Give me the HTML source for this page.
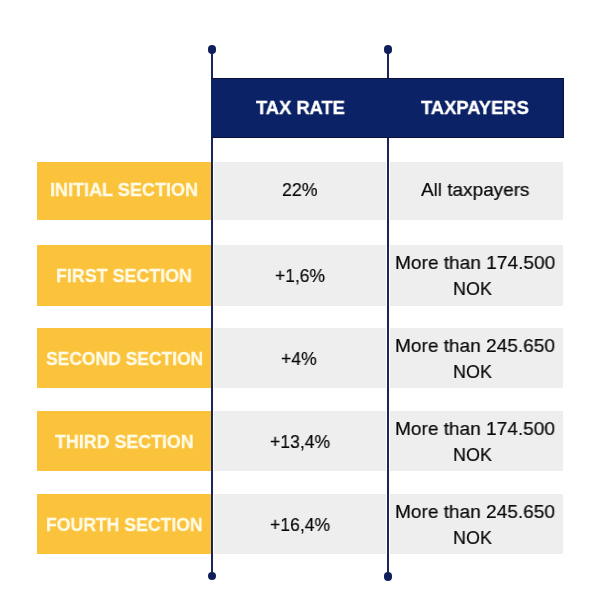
<!DOCTYPE html>
<html>
<head>
<meta charset="utf-8">
<style>
html,body{margin:0;padding:0;}
body{width:600px;height:600px;background:#ffffff;position:relative;overflow:hidden;font-family:"Liberation Sans",sans-serif;}
.abs{position:absolute;}
.hdr{left:211px;top:77.8px;width:352.8px;height:59.9px;background:#0c2266;border:1.6px solid #0a1136;border-left:0;box-sizing:border-box;z-index:2;}
.y{left:37px;width:174px;background:#fbc23c;}
.g1{left:213.5px;width:172px;background:#eeeeee;}
.g2{left:390px;width:172.6px;background:#eeeeee;}
.vl{width:2.4px;background:#1b2559;top:49px;height:527px;}
.dot{width:8.4px;height:8.4px;border-radius:50%;background:#0f1f5c;}
.t{position:absolute;white-space:nowrap;line-height:1;transform-origin:0 0;z-index:3;will-change:transform;}
.yt{color:#fffae4;font-weight:bold;-webkit-text-stroke:0.3px #fffae4;}
.ht{color:#ffffff;font-weight:bold;-webkit-text-stroke:0.3px #ffffff;}
.gt{color:#080808;-webkit-text-stroke:0.2px #080808;}
</style>
</head>
<body>
<div class="abs hdr"></div>
<div class="abs y" style="top:161.5px;height:58px"></div>
<div class="abs g1" style="top:161.5px;height:58px"></div>
<div class="abs g2" style="top:161.5px;height:58px"></div>
<div class="abs y" style="top:244.8px;height:60.8px"></div>
<div class="abs g1" style="top:244.8px;height:60.8px"></div>
<div class="abs g2" style="top:244.8px;height:60.8px"></div>
<div class="abs y" style="top:328px;height:60px"></div>
<div class="abs g1" style="top:328px;height:60px"></div>
<div class="abs g2" style="top:328px;height:60px"></div>
<div class="abs y" style="top:410.7px;height:60.6px"></div>
<div class="abs g1" style="top:410.7px;height:60.6px"></div>
<div class="abs g2" style="top:410.7px;height:60.6px"></div>
<div class="abs y" style="top:494px;height:60px"></div>
<div class="abs g1" style="top:494px;height:60px"></div>
<div class="abs g2" style="top:494px;height:60px"></div>
<div class="abs vl" style="left:210.7px"></div>
<div class="abs vl" style="left:386.9px"></div>
<div class="abs dot" style="left:207.6px;top:45.3px"></div>
<div class="abs dot" style="left:383.8px;top:45.3px"></div>
<div class="abs dot" style="left:207.6px;top:572.1px"></div>
<div class="abs dot" style="left:383.8px;top:572.3px"></div>
<div class="t ht" id="h1" style="left:255.87px;top:98.08px;font-size:19.25px;transform:scaleX(0.9521)">TAX RATE</div>
<div class="t ht" id="h2" style="left:420.79px;top:98.08px;font-size:19.25px;transform:scaleX(0.9539)">TAXPAYERS</div>
<div class="t yt" id="y1" style="left:50.32px;top:180.45px;font-size:19.25px;transform:scaleX(0.9375)">INITIAL SECTION</div>
<div class="t yt" id="y2" style="left:55.92px;top:265.89px;font-size:19.25px;transform:scaleX(0.9274)">FIRST SECTION</div>
<div class="t yt" id="y3" style="left:46.08px;top:349.39px;font-size:19.25px;transform:scaleX(0.9073)">SECOND SECTION</div>
<div class="t yt" id="y4" style="left:54.87px;top:432.14px;font-size:19.25px;transform:scaleX(0.9264)">THIRD SECTION</div>
<div class="t yt" id="y5" style="left:46.06px;top:515.20px;font-size:19.25px;transform:scaleX(0.9151)">FOURTH SECTION</div>
<div class="t gt" id="m1" style="left:281.84px;top:180.03px;font-size:19.25px;transform:scaleX(0.9211)">22%</div>
<div class="t gt" id="m2" style="left:274.91px;top:265.57px;font-size:19.25px;transform:scaleX(0.9065)">+1,6%</div>
<div class="t gt" id="m3" style="left:281.45px;top:349.43px;font-size:19.25px;transform:scaleX(0.9113)">+4%</div>
<div class="t gt" id="m4" style="left:269.55px;top:431.94px;font-size:19.25px;transform:scaleX(0.9123)">+13,4%</div>
<div class="t gt" id="m5" style="left:269.55px;top:515.19px;font-size:19.25px;transform:scaleX(0.9123)">+16,4%</div>
<div class="t gt" id="r1" style="left:420.95px;top:180.29px;font-size:19.25px;transform:scaleX(0.9840)">All taxpayers</div>
<div class="t gt" id="r2a" style="left:395.23px;top:253.26px;font-size:19.25px;transform:scaleX(0.9909)">More than 174.500</div>
<div class="t gt" id="r2b" style="left:453.41px;top:278.60px;font-size:19.25px;transform:scaleX(0.9303)">NOK</div>
<div class="t gt" id="r3a" style="left:395.05px;top:335.77px;font-size:19.25px;transform:scaleX(0.9892)">More than 245.650</div>
<div class="t gt" id="r3b" style="left:453.41px;top:361.60px;font-size:19.25px;transform:scaleX(0.9303)">NOK</div>
<div class="t gt" id="r4a" style="left:395.05px;top:418.77px;font-size:19.25px;transform:scaleX(0.9892)">More than 174.500</div>
<div class="t gt" id="r4b" style="left:453.41px;top:444.60px;font-size:19.25px;transform:scaleX(0.9303)">NOK</div>
<div class="t gt" id="r5a" style="left:395.05px;top:501.58px;font-size:19.25px;transform:scaleX(0.9892)">More than 245.650</div>
<div class="t gt" id="r5b" style="left:453.41px;top:527.66px;font-size:19.25px;transform:scaleX(0.9303)">NOK</div>
</body>
</html>
